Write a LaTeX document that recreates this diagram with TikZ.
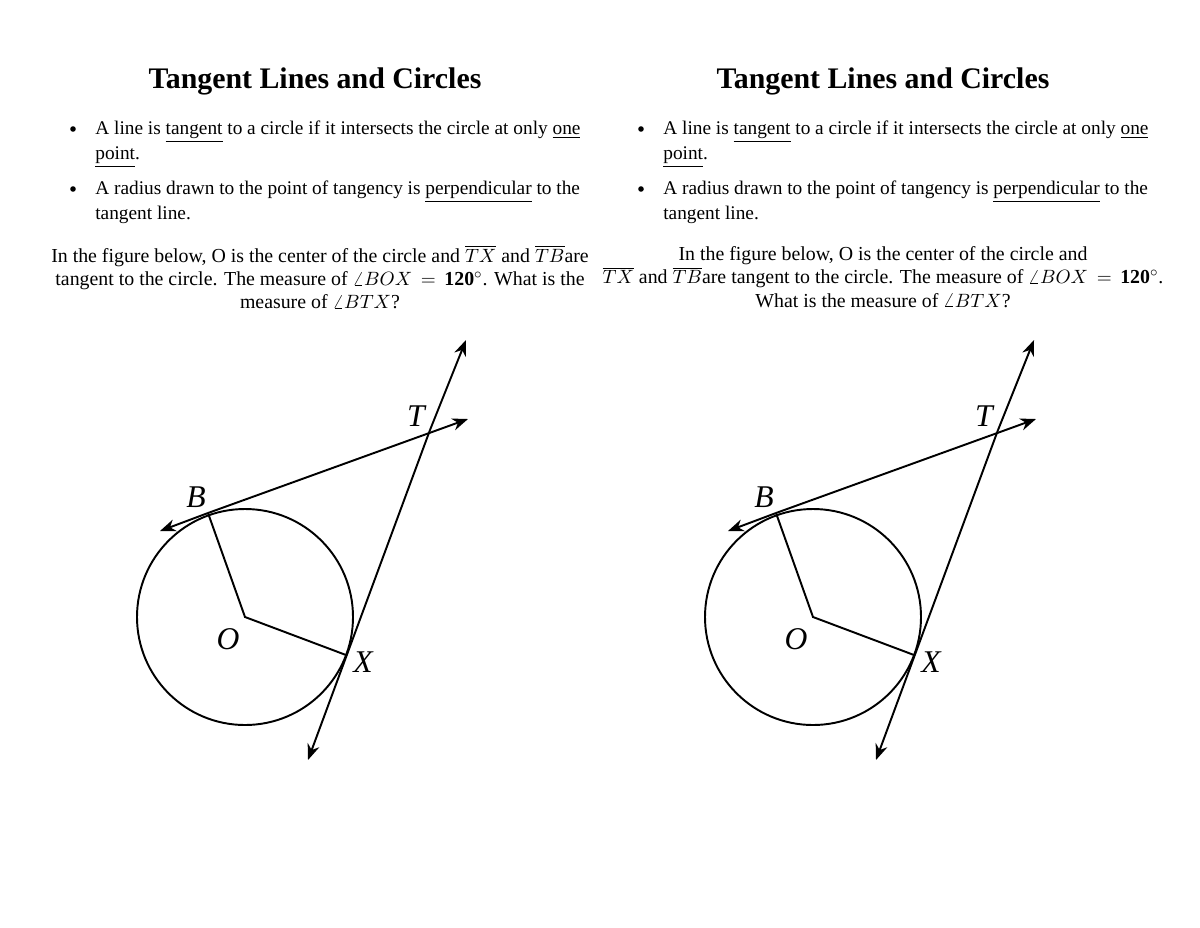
\documentclass[tikz,border=0pt]{standalone}
\usepackage{amsmath}
\usepackage{fontspec}
\setmainfont{Liberation Serif}
\usetikzlibrary{arrows.meta}
\begin{document}
\begin{tikzpicture}[x=0.02cm,y=-0.02cm,
 ttl/.style={font=\fontsize{17}{20}\selectfont\bfseries},
 body/.style={font=\fontsize{11}{14}\selectfont,anchor=north west,align=left,inner sep=0},
 para/.style={font=\fontsize{11.3}{13.2}\selectfont,align=center,inner sep=0},
 lbl/.style={font=\fontsize{18}{18}\selectfont\itshape},
 geo/.style={line width=1.1pt},
 arr/.style={geo,-{Stealth[length=9pt,width=7pt]}}]
\useasboundingbox (0,0) rectangle (1200,927);
\foreach \dx/\s in {0/a,568/b}{
\begin{scope}[xshift=\dx*0.02cm]
\node[ttl] (title\s) at (315,81) {Tangent Lines and Circles};
\fill (73,129) circle (2.8);
\fill (73,189) circle (2.8);
\node[body] (p1\s) at (95,121) {A line is \underline{tangent} to a circle if it intersects the circle at only \underline{one}\\ \underline{point}.};
\node[body] (p2\s) at (95,181) {A radius drawn to the point of tangency is \underline{perpendicular} to the\\ tangent line.};
\coordinate (O\s) at (245,617);
\coordinate (B\s) at (208,513);
\coordinate (X\s) at (346,655);
\coordinate (T\s) at (430,430);
\coordinate (Bend\s) at (160,531);
\coordinate (Tend\s) at (468,419);
\coordinate (Xend\s) at (308,760);
\coordinate (Tup\s) at (466,340);
\draw[geo] (O\s) circle (108);
\draw[geo] (B\s) -- (O\s) -- (X\s);
\draw[arr] (B\s) -- (Bend\s);
\draw[arr] (B\s) -- (Tend\s);
\draw[arr] (T\s) -- (Tup\s);
\draw[arr] (T\s) -- (Xend\s);
\node[lbl] (lT\s) at (416,416) {T};
\node[lbl] (lB\s) at (196,497) {B};
\node[lbl] (lO\s) at (228,639) {O};
\node[lbl] (lX\s) at (363,662) {X};
\end{scope}}
\node[para] (qa) at (320,277) {In the figure below, O is the center of the circle and $\overline{TX}$ and $\overline{TB}$are\\ tangent to the circle. The measure of $\angle BOX\,=\,\mathbf{120^\circ}$. What is the\\ measure of $\angle BTX$?};
\node[para] (qb) at (883,277) {In the figure below, O is the center of the circle and\\ $\overline{TX}$ and $\overline{TB}$are tangent to the circle. The measure of $\angle BOX\,=\,\mathbf{120^\circ}$.\\ What is the measure of $\angle BTX$?};
\end{tikzpicture}
\end{document}
